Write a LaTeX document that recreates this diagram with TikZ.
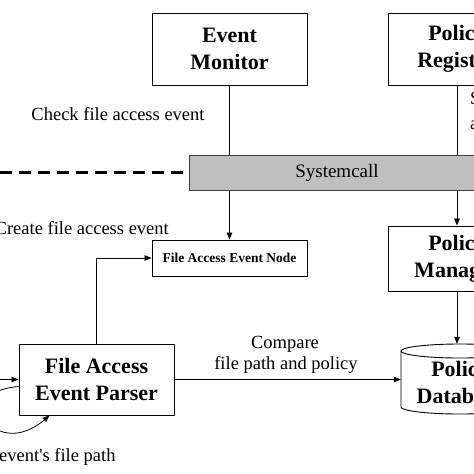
\documentclass[tikz,border=0pt]{standalone}
\usepackage{fontspec}
\setmainfont{Liberation Serif}
\usetikzlibrary{arrows.meta}

\begin{document}
\begin{tikzpicture}[x=1pt, y=-1pt,
  box/.style={draw, line width=0.9pt, align=center, inner sep=0pt,
    font=\fontsize{22}{27}\selectfont\bfseries},
  note/.style={inner sep=0pt, font=\fontsize{18.5}{22}\selectfont},
  link/.style={line width=0.8pt, -{Triangle[length=7pt,width=5.5pt]}}]
  \clip (0,0) rectangle (474,474);

  \node[box, minimum width=155pt, minimum height=72pt] (monitor) at (229.5,49) {Event\\Monitor};
  \node[box, minimum width=138pt, minimum height=72pt] (registry) at (457,49) {Policy\\Registry};
  \node[box, minimum width=138pt, minimum height=65pt] (manager) at (457,258.5) {Policy\\Manager};
  \node[box, minimum width=155pt, minimum height=36pt,
    font=\fontsize{13.5}{16}\selectfont\bfseries] (eventnode) at (229.5,258) {File Access Event Node};
  \node[box, minimum width=155pt, minimum height=71pt] (parser) at (96.5,379.5) {File Access\\Event Parser};

  % policy database
  \node[align=center, inner sep=0pt, minimum width=118pt, minimum height=76pt,
    font=\fontsize{22}{27}\selectfont\bfseries] (db) at (460,382) {Policy\\Database};
  \draw[line width=0.9pt] (401,351) -- (401,407) arc[start angle=180, end angle=0, x radius=59, y radius=7] -- (519,351);
  \draw[line width=0.9pt] (460,351) ellipse [x radius=59, y radius=7];

  \draw[link] (monitor.south) -- (eventnode.north);
  \draw[link] (registry.south) -- (manager.north);
  \draw[link] (manager.south) -- (manager.south |- db.north);
  \draw[link] (parser.north) |- (eventnode.west);
  \draw[link] (parser.east) -- (parser.east -| db.west);

  \coordinate (leftin) at (0,379.5);
  \draw[link] (leftin) -- (parser.west);
  \draw[link] ([yshift=-7pt]parser.west) .. controls (-50,392) and (-5,462) .. ([xshift=31pt]parser.south west);

  % systemcall bar
  \node[draw=black!75, fill=gray!50, line width=0.9pt, minimum width=296pt, minimum height=35pt,
    font=\fontsize{19}{22}\selectfont] (bar) at (337,172.5) {Systemcall};
  \coordinate (dashstart) at (0,172.5);
  \draw[line width=2.6pt, dash pattern=on 12pt off 7pt] (dashstart) -- (bar.west);

  \node[note] (check) at (118,114) {Check file access event};
  \node[note, anchor=east] (create) at (169,228) {Create file access event};
  \node[note, anchor=west] (setp) at (470,100) {Set policy};
  \node[note, anchor=west] (andr) at (470,123) {and rule};
  \node[note] (compare) at (285,344) {Compare};
  \node[note] (fpath) at (286,365) {file path and policy};
  \node[note, anchor=west] (evpath) at (-1,457) {event\textquotesingle s file path};

\end{tikzpicture}
\end{document}
